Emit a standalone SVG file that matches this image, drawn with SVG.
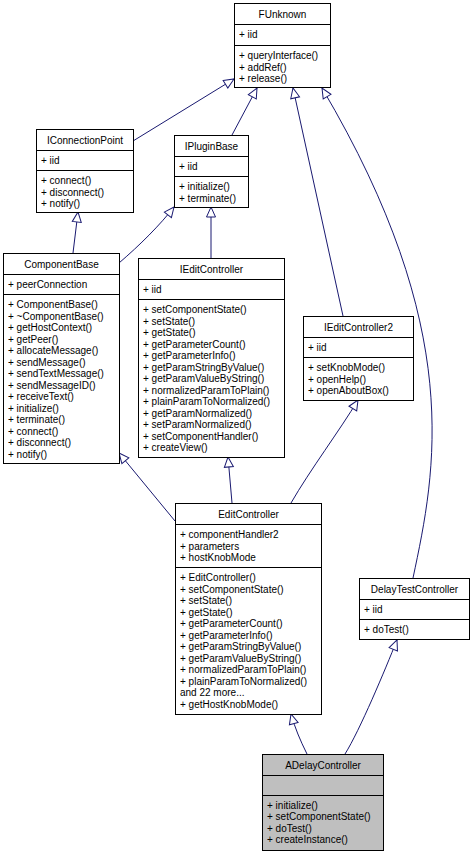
<svg xmlns="http://www.w3.org/2000/svg" width="474" height="855" viewBox="0 0 474 855">
<style>
text{font-family:"Liberation Sans",Arial,Helvetica,sans-serif;font-size:10px;fill:#000}
.t{text-anchor:middle}
.box{fill:#fff;stroke:#000;stroke-width:1}
.gray{fill:#bfbfbf}
.div{stroke:#000;stroke-width:1}
.edge{fill:none;stroke:#191970;stroke-width:1;marker-end:url(#tri)}
</style>
<defs>
<marker id="tri" markerUnits="userSpaceOnUse" markerWidth="12" markerHeight="11" refX="11" refY="5.5" orient="auto" overflow="visible">
<path d="M1,1 L11,5.5 L1,10 Z" fill="#fff" stroke="#191970" stroke-width="1"/>
</marker>
</defs>
<rect width="474" height="855" fill="#fff"/>
<g id="connectors">
<path class="edge" d="M133,141 L234,79"/>
<path class="edge" d="M232,135 L257,88"/>
<path class="edge" d="M343,316 L293,88"/>
<path class="edge" d="M413,578 C436,470 465,330 322,88"/>
<path class="edge" d="M73,253 L78,212"/>
<path class="edge" d="M119,263 C140,245 160,225 174,207"/>
<path class="edge" d="M211,258 L211,207"/>
<path class="edge" d="M175,521 L119,453"/>
<path class="edge" d="M232,503 L228,457"/>
<path class="edge" d="M291,503 C310,470 340,430 358,400"/>
<path class="edge" d="M307,754 C300,740 295,728 291,714"/>
<path class="edge" d="M345,754 C360,730 385,670 397,640"/>
</g>
<g id="FUnknown">
<rect class="box" x="234.5" y="3.5" width="96" height="84"/>
<line class="div" x1="234.5" y1="24.5" x2="330.5" y2="24.5"/>
<line class="div" x1="234.5" y1="45.5" x2="330.5" y2="45.5"/>
<text class="t" x="282.5" y="18">FUnknown</text>
<text x="239" y="38">+ iid</text>
<text x="239" y="59">+ queryInterface()</text>
<text x="239" y="70.5">+ addRef()</text>
<text x="239" y="82">+ release()</text>
</g>
<g id="IConnectionPoint">
<rect class="box" x="36.5" y="129.5" width="97" height="83"/>
<line class="div" x1="36.5" y1="150.5" x2="133.5" y2="150.5"/>
<line class="div" x1="36.5" y1="170.5" x2="133.5" y2="170.5"/>
<text class="t" x="85" y="144">IConnectionPoint</text>
<text x="41" y="164">+ iid</text>
<text x="41" y="184">+ connect()</text>
<text x="41" y="195.5">+ disconnect()</text>
<text x="41" y="207">+ notify()</text>
</g>
<g id="IPluginBase">
<rect class="box" x="174.5" y="135.5" width="74" height="72"/>
<line class="div" x1="174.5" y1="156.5" x2="248.5" y2="156.5"/>
<line class="div" x1="174.5" y1="176.5" x2="248.5" y2="176.5"/>
<text class="t" x="211.5" y="150">IPluginBase</text>
<text x="179" y="170">+ iid</text>
<text x="179" y="190">+ initialize()</text>
<text x="179" y="201.5">+ terminate()</text>
</g>
<g id="ComponentBase">
<rect class="box" x="3.5" y="253.5" width="116" height="210"/>
<line class="div" x1="3.5" y1="274.5" x2="119.5" y2="274.5"/>
<line class="div" x1="3.5" y1="294.5" x2="119.5" y2="294.5"/>
<text class="t" x="61.5" y="268">ComponentBase</text>
<text x="8" y="288">+ peerConnection</text>
<text x="8" y="308">+ ComponentBase()</text>
<text x="8" y="319.5">+ ~ComponentBase()</text>
<text x="8" y="331">+ getHostContext()</text>
<text x="8" y="342.5">+ getPeer()</text>
<text x="8" y="354">+ allocateMessage()</text>
<text x="8" y="365.5">+ sendMessage()</text>
<text x="8" y="377">+ sendTextMessage()</text>
<text x="8" y="388.5">+ sendMessageID()</text>
<text x="8" y="400">+ receiveText()</text>
<text x="8" y="411.5">+ initialize()</text>
<text x="8" y="423">+ terminate()</text>
<text x="8" y="434.5">+ connect()</text>
<text x="8" y="446">+ disconnect()</text>
<text x="8" y="457.5">+ notify()</text>
</g>
<g id="IEditController">
<rect class="box" x="138.5" y="258.5" width="146" height="199"/>
<line class="div" x1="138.5" y1="279.5" x2="284.5" y2="279.5"/>
<line class="div" x1="138.5" y1="299.5" x2="284.5" y2="299.5"/>
<text class="t" x="211.5" y="273">IEditController</text>
<text x="143" y="293">+ iid</text>
<text x="143" y="313">+ setComponentState()</text>
<text x="143" y="324.5">+ setState()</text>
<text x="143" y="336">+ getState()</text>
<text x="143" y="347.5">+ getParameterCount()</text>
<text x="143" y="359">+ getParameterInfo()</text>
<text x="143" y="370.5">+ getParamStringByValue()</text>
<text x="143" y="382">+ getParamValueByString()</text>
<text x="143" y="393.5">+ normalizedParamToPlain()</text>
<text x="143" y="405">+ plainParamToNormalized()</text>
<text x="143" y="416.5">+ getParamNormalized()</text>
<text x="143" y="428">+ setParamNormalized()</text>
<text x="143" y="439.5">+ setComponentHandler()</text>
<text x="143" y="451">+ createView()</text>
</g>
<g id="IEditController2">
<rect class="box" x="303.5" y="316.5" width="110" height="84"/>
<line class="div" x1="303.5" y1="337.5" x2="413.5" y2="337.5"/>
<line class="div" x1="303.5" y1="357.5" x2="413.5" y2="357.5"/>
<text class="t" x="358.5" y="331">IEditController2</text>
<text x="308" y="351">+ iid</text>
<text x="308" y="371">+ setKnobMode()</text>
<text x="308" y="382.5">+ openHelp()</text>
<text x="308" y="394">+ openAboutBox()</text>
</g>
<g id="EditController">
<rect class="box" x="175.5" y="503.5" width="146" height="211"/>
<line class="div" x1="175.5" y1="524.5" x2="321.5" y2="524.5"/>
<line class="div" x1="175.5" y1="567.5" x2="321.5" y2="567.5"/>
<text class="t" x="248.5" y="518">EditController</text>
<text x="180" y="538">+ componentHandler2</text>
<text x="180" y="549.5">+ parameters</text>
<text x="180" y="561">+ hostKnobMode</text>
<text x="180" y="581">+ EditController()</text>
<text x="180" y="592.5">+ setComponentState()</text>
<text x="180" y="604">+ setState()</text>
<text x="180" y="615.5">+ getState()</text>
<text x="180" y="627">+ getParameterCount()</text>
<text x="180" y="638.5">+ getParameterInfo()</text>
<text x="180" y="650">+ getParamStringByValue()</text>
<text x="180" y="661.5">+ getParamValueByString()</text>
<text x="180" y="673">+ normalizedParamToPlain()</text>
<text x="180" y="684.5">+ plainParamToNormalized()</text>
<text x="180" y="696">and 22 more...</text>
<text x="180" y="707.5">+ getHostKnobMode()</text>
</g>
<g id="DelayTestController">
<rect class="box" x="359.5" y="578.5" width="110" height="61"/>
<line class="div" x1="359.5" y1="599.5" x2="469.5" y2="599.5"/>
<line class="div" x1="359.5" y1="619.5" x2="469.5" y2="619.5"/>
<text class="t" x="414.5" y="593">DelayTestController</text>
<text x="364" y="613">+ iid</text>
<text x="364" y="633">+ doTest()</text>
</g>
<g id="ADelayController">
<rect class="box gray" x="262.5" y="754.5" width="121" height="96"/>
<line class="div" x1="262.5" y1="775.5" x2="383.5" y2="775.5"/>
<line class="div" x1="262.5" y1="795.5" x2="383.5" y2="795.5"/>
<text class="t" x="323" y="769">ADelayController</text>
<text x="267" y="808.5">+ initialize()</text>
<text x="267" y="820">+ setComponentState()</text>
<text x="267" y="831.5">+ doTest()</text>
<text x="267" y="843">+ createInstance()</text>
</g>
</svg>
